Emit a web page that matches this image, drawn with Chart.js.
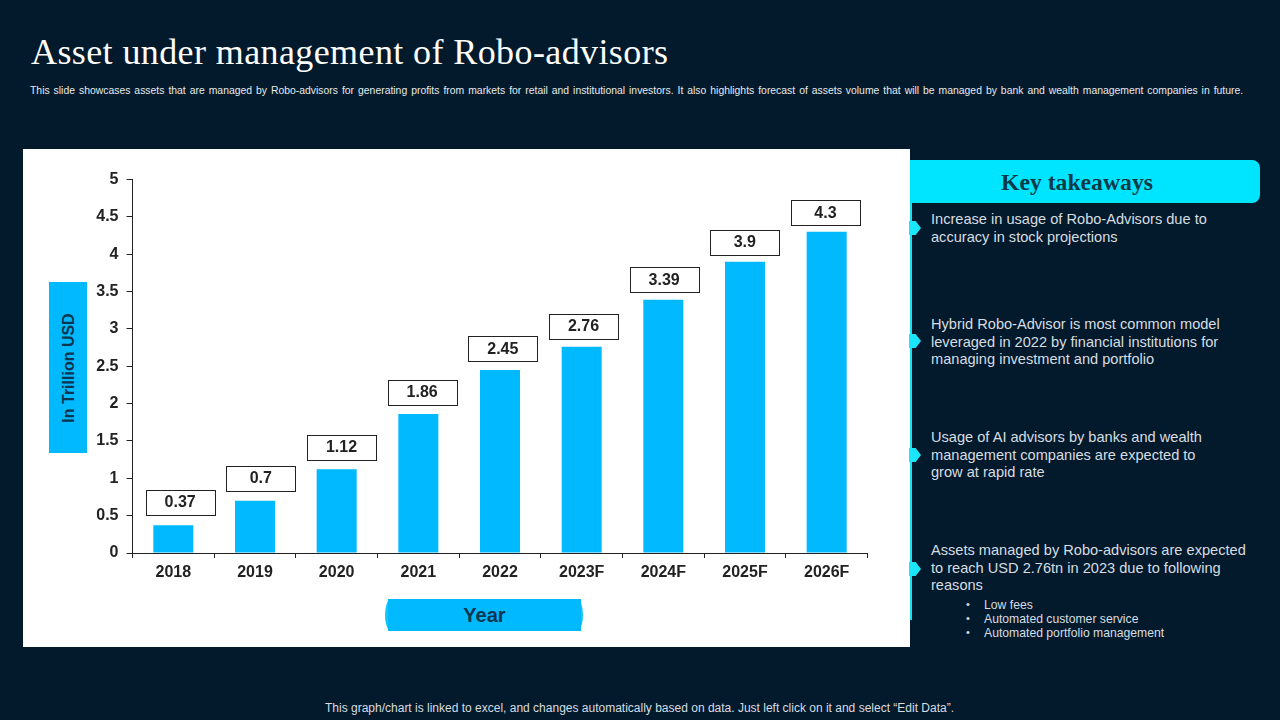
<!DOCTYPE html>
<html><head><meta charset="utf-8">
<script src="https://cdn.jsdelivr.net/npm/chart.js@4"></script>
<style>
html,body{margin:0;padding:0;width:1280px;height:720px;overflow:hidden;background:#021a2b;font-family:"Liberation Sans",Arial,sans-serif}
.t{position:absolute;white-space:nowrap}
#panel{position:absolute;left:23px;top:149px;width:887px;height:498px;background:#fff}
.tk{color:#d8dde2;font-size:14.6px;line-height:17.7px;left:931px}
.sub{color:#d8dde2;font-size:12.2px;line-height:14px;left:984px}
.dot{color:#d8dde2;font-size:11px;left:966px}
.arrow{position:absolute;left:909px;width:12px;height:14px;background:#19e6fa;clip-path:polygon(0 0,55% 0,100% 50%,55% 100%,0 100%)}
</style></head><body>
<div class="t" style="left:31px;top:30px;color:#fff;font:36px/44px 'Liberation Serif',serif;letter-spacing:.4px">Asset under management of Robo-advisors</div>
<div class="t" style="left:30px;top:84px;color:#e6eaee;font-size:10.4px;line-height:14px;word-spacing:1.1px">This slide showcases assets that are managed by Robo-advisors for generating profits from markets for retail and institutional investors. It also highlights forecast of assets volume that will be managed by bank and wealth management companies in future.</div>
<div id="panel"><canvas id="c" width="887" height="498" style="display:block;width:887px;height:498px"></canvas></div>
<div class="t" style="left:49px;top:282px;width:38px;height:171px;background:#00b9ff"></div>
<div class="t" style="left:69px;top:368px;transform:translate(-50%,-50%) rotate(-90deg);color:#0d3550;font-weight:bold;font-size:16px">In Trillion USD</div>
<div class="t" style="left:385px;top:600px;width:198px;height:30px;background:#12c8f4;border-radius:5px/15px"></div>
<div class="t" style="left:388px;top:599px;width:193px;height:32px;background:#00b9ff;color:#0d3550;font-weight:bold;font-size:20px;line-height:32px;text-align:center">Year</div>
<div class="t" style="left:910px;top:160px;width:350px;height:43px;background:#00e5ff;border-radius:0 8px 8px 0;color:#063a48;font:bold 23.7px/44px 'Liberation Serif',serif;text-align:center;text-indent:-16px">Key takeaways</div>
<div class="t" style="left:910px;top:203px;width:2px;height:417px;background:#19e0f0"></div>
<div class="arrow" style="top:221px"></div><div class="arrow" style="top:334px"></div><div class="arrow" style="top:448px"></div><div class="arrow" style="top:562px"></div>
<div class="t tk" style="top:211px">Increase in usage of Robo-Advisors due to<br>accuracy in stock projections</div>
<div class="t tk" style="top:316px">Hybrid Robo-Advisor is most common model<br>leveraged in 2022 by financial institutions for<br>managing investment and portfolio</div>
<div class="t tk" style="top:429px">Usage of AI advisors by banks and wealth<br>management companies are expected to<br>grow at rapid rate</div>
<div class="t tk" style="top:542px">Assets managed by Robo-advisors are expected<br>to reach USD 2.76tn in 2023 due to following<br>reasons</div>
<div class="t dot" style="top:598px">•</div><div class="t dot" style="top:612px">•</div><div class="t dot" style="top:626px">•</div>
<div class="t sub" style="top:598px">Low fees<br>Automated customer service<br>Automated portfolio management</div>
<div class="t" style="left:325px;top:701px;color:#d8dde2;font-size:12px;line-height:15px">This graph/chart is linked to excel, and changes automatically based on data. Just left click on it and select “Edit Data”.</div>
<script>
const categories=["2018","2019","2020","2021","2022","2023F","2024F","2025F","2026F"];
const seriesValues=[0.37,0.7,1.12,1.86,2.45,2.76,3.39,3.9,4.3];
const valueLabels=["0.37","0.7","1.12","1.86","2.45","2.76","3.39","3.9","4.3"];
const boxedLabels={id:'boxedLabels',afterDatasetsDraw(chart){
  const ctx=chart.ctx;const meta=chart.getDatasetMeta(0);
  ctx.save();
  meta.data.forEach((el,i)=>{
    const cx=el.x+6.8-i,gap=10.6-i*0.5,cy=el.y-gap-12.5;
    const x=Math.round(cx-34.5)+0.5,y=Math.round(cy-12.5)+0.5;
    ctx.fillStyle='#fff';ctx.strokeStyle='#222';ctx.lineWidth=1;
    ctx.fillRect(x,y,69,25);ctx.strokeRect(x,y,69,25);
    ctx.fillStyle='#222';ctx.font='bold 16px "Liberation Sans"';ctx.textAlign='center';ctx.textBaseline='middle';
    ctx.fillText(valueLabels[i],cx,cy+0.5);
  });
  ctx.restore();
}};
new Chart(document.getElementById('c'),{type:'bar',
 data:{labels:categories,datasets:[{data:seriesValues,backgroundColor:'#00b9ff',borderWidth:0,categoryPercentage:1,barPercentage:0.49}]},
 plugins:[boxedLabels],
 options:{responsive:false,animation:false,devicePixelRatio:1,
  layout:{padding:{top:30.5,right:42.5,left:0,bottom:0}},
  plugins:{legend:{display:false},tooltip:{enabled:false},title:{display:false}},
  scales:{
   x:{afterFit(s){s.height=94},grid:{drawOnChartArea:false,color:'#222',tickLength:5,offset:true},border:{color:'#222'},
      ticks:{color:'#222',font:{family:'Liberation Sans',size:16,weight:'bold'},padding:5,maxRotation:0}},
   y:{min:0,max:5,afterFit(s){s.width=109.5},grid:{drawOnChartArea:false,color:'#222',tickLength:6},border:{color:'#222'},
      ticks:{stepSize:0.5,color:'#222',font:{family:'Liberation Sans',size:16,weight:'bold'},padding:8,callback:v=>String(v)}}
  }}});
</script>
</body></html>
